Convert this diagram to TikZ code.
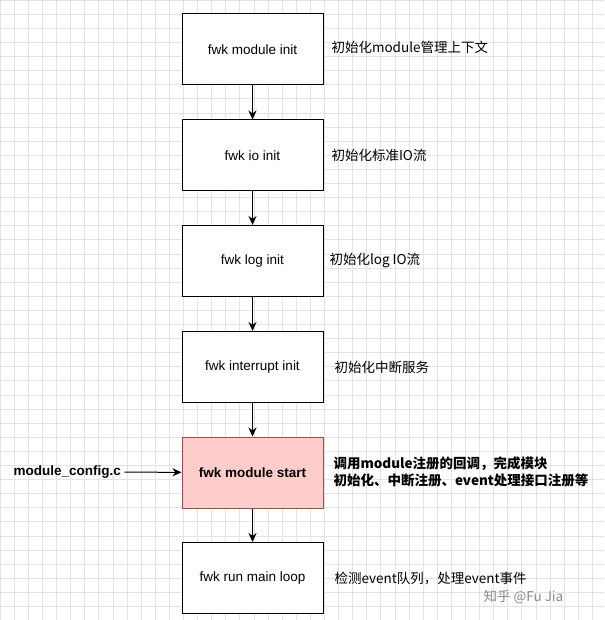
\documentclass[tikz,border=0pt]{standalone}
\usepackage{fontspec}
\setmainfont{Liberation Sans}
\newfontfamily\cjk{Noto Sans CJK SC}
\usetikzlibrary{arrows.meta}
\begin{document}
\begin{tikzpicture}[x=1pt,y=-1pt,
  box/.style={draw=black,line width=1pt,fill=white,minimum width=141pt,minimum height=71pt,font=\fontsize{13.5}{15}\selectfont},
  note/.style={anchor=west,font=\fontsize{13.5}{15}\selectfont\cjk},
  arr/.style={-{Stealth[length=9pt,width=8pt]},line width=1pt}]
\useasboundingbox (0,0) rectangle (604,620);
\fill[white] (0,0) rectangle (604,620);
\foreach \i in {0,...,43} {\draw[black!11,line width=0.5pt] (\i*14.1,0) -- (\i*14.1,620);}
\foreach \i in {0,...,44} {\draw[black!11,line width=0.5pt] (0,\i*14.1) -- (604,\i*14.1);}
\node[box] (b1) at (252.5,49.5) {fwk module init};
\node[box] (b2) at (252.5,155.5) {fwk io init};
\node[box] (b3) at (252.5,261) {fwk log init};
\node[box] (b4) at (252.5,367) {fwk interrupt init};
\node[box,fill=red!20,draw=red!45!black!70,font=\fontsize{13.5}{15}\selectfont\bfseries] (b5) at (252.5,472.5) {fwk module start};
\node[box] (b6) at (252.5,578) {fwk run main loop};
\node[note] (n1) at (328,47) {初始化module管理上下文};
\node[note] (n2) at (328,155) {初始化标准IO流};
\node[note] (n3) at (326,261) {初始化log IO流};
\node[note] (n4) at (331,367) {初始化中断服务};
\node[note,align=left,font=\fontsize{13.5}{17}\selectfont\cjk\bfseries] (n5) at (330,472) {调用module注册的回调，完成模块\\初始化、中断注册、event处理接口注册等};
\node[note] (n6) at (331,578) {检测event队列，处理event事件};
\node[anchor=west,font=\fontsize{13.5}{15}\selectfont\bfseries] (mc) at (10,472) {module\_config.c};
\draw[arr] (b1) -- (b2);
\draw[arr] (b2) -- (b3);
\draw[arr] (b3) -- (b4);
\draw[arr] (b4) -- (b5);
\draw[arr] (b5) -- (b6);
\draw[arr] (mc) -- (b5);
\node[anchor=west,text=black!45,font=\fontsize{13.5}{15}\selectfont\cjk] (wm) at (480,597) {知乎 @Fu Jia};
\end{tikzpicture}
\end{document}
